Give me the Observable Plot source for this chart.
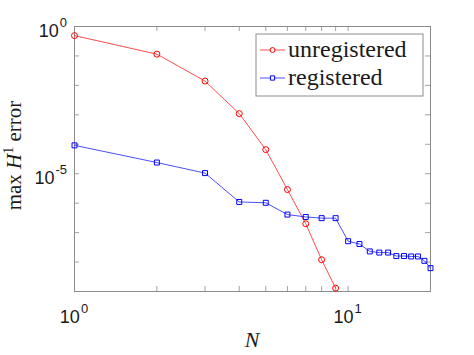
<!DOCTYPE html>
<html><head><meta charset="utf-8">
<script src="https://cdn.jsdelivr.net/npm/d3@7"></script>
<script src="https://cdn.jsdelivr.net/npm/@observablehq/plot@0.6"></script>
<style>body{margin:0;background:#fff}</style>
</head><body><div id="chart"></div>
<script>
// ---- data ----
const seriesNames = ["unregistered", "registered"];
const N_unreg = [1, 2, 3, 4, 5, 6, 7, 8, 9];
const err_unreg = [0.49, 0.115, 0.014, 1.1e-3, 6.6e-5, 2.9e-6, 2.0e-7, 1.2e-8, 1.3e-9];
const N_reg = [1, 2, 3, 4, 5, 6, 7, 8, 9, 10, 11, 12, 13, 14, 15, 16, 17, 18, 19, 20];
const err_reg = [9.2e-5, 2.4e-5, 1.05e-5, 1.1e-6, 1.03e-6, 4.1e-7, 3.4e-7, 3.1e-7, 3.1e-7,
                 5.1e-8, 4.1e-8, 2.3e-8, 2.1e-8, 2.1e-8, 1.6e-8, 1.6e-8, 1.55e-8, 1.55e-8, 1.1e-8, 6.2e-9];
const xTickLabels = [1, 10];
const yTickLabels = [1, 1e-5];
const xMinorTicks = [1, 2, 3, 4, 5, 6, 7, 8, 9, 10, 20];
const yMinorTicks = [1e-9, 1e-8, 1e-7, 1e-6, 1e-5, 1e-4, 1e-3, 1e-2, 1e-1, 1];
const xLabel = "N";

// ---- layout ----
const W = 474, H = 355, mL = 74, mR = 44, mT = 26, mB = 64;
const innerW = W - mL - mR, innerH = H - mT - mB;
const gray = "#8c8c8c", red = "#ff0000", blue = "#0000ff";

const unreg = N_unreg.map((n, i) => ({N: n, err: err_unreg[i]}));
const reg = N_reg.map((n, i) => ({N: n, err: err_reg[i]}));

const chart = Plot.plot({
  width: W, height: H,
  marginLeft: mL, marginRight: mR, marginTop: mT, marginBottom: mB,
  x: {type: "log", domain: [1, 20], axis: null},
  y: {type: "log", domain: [1e-9, 1], axis: null},
  style: {background: "white", overflow: "visible"},
  marks: [
    Plot.tickX(xMinorTicks, {x: d => d, insetTop: innerH - 5, stroke: gray, strokeWidth: 0.8}),
    Plot.tickX(xMinorTicks, {x: d => d, insetBottom: innerH - 5, stroke: gray, strokeWidth: 0.8}),
    Plot.tickY(yMinorTicks, {y: d => d, insetRight: innerW - 5, stroke: gray, strokeWidth: 0.8}),
    Plot.tickY(yMinorTicks, {y: d => d, insetLeft: innerW - 5, stroke: gray, strokeWidth: 0.8}),
    Plot.frame({stroke: gray, strokeWidth: 1}),
    Plot.line(unreg, {x: "N", y: "err", stroke: red, strokeWidth: 0.7}),
    Plot.dot(unreg, {x: "N", y: "err", stroke: red, r: 3, strokeWidth: 1, symbol: "circle"}),
    Plot.line(reg, {x: "N", y: "err", stroke: blue, strokeWidth: 0.7}),
    Plot.dot(reg, {x: "N", y: "err", stroke: blue, r: 2.8, strokeWidth: 1, symbol: "square"})
  ]
});
document.getElementById("chart").appendChild(chart);

const sx = chart.scale("x"), sy = chart.scale("y");
const svg = d3.select(chart);
const sans = "'Liberation Sans', Arial, Helvetica, sans-serif";
const serif = "'Liberation Serif', 'Times New Roman', serif";

function powLabel(g, v, x, y, anchor) {
  const e = Math.round(Math.log10(v));
  const t = g.append("text").attr("x", x).attr("y", y).attr("text-anchor", anchor)
    .attr("font-family", sans).attr("font-size", 18).attr("fill", "#1a1a1a");
  t.append("tspan").text("10");
  t.append("tspan").attr("font-size", 13).attr("dy", -10).attr("dx", 1).text(String(e));
}
const g = svg.append("g");
xTickLabels.forEach(v => powLabel(g, v, sx.apply(v), 322.5, "middle"));
yTickLabels.forEach(v => powLabel(g, v, mL - 7, sy.apply(v) + 10.7, "end"));

// axis titles
svg.append("text").attr("x", mL + innerW / 2).attr("y", 347).attr("text-anchor", "middle")
  .attr("font-family", serif).attr("font-style", "italic").attr("font-size", 22).attr("fill", "#1a1a1a")
  .text(xLabel);
const yl = svg.append("text").attr("transform", `translate(21,${mT + innerH / 2 - 3}) rotate(-90)`)
  .attr("text-anchor", "middle").attr("font-family", serif).attr("font-size", 21).attr("fill", "#1a1a1a");
yl.append("tspan").text("max ");
yl.append("tspan").attr("font-style", "italic").text("H");
yl.append("tspan").attr("font-size", 14).attr("dy", -8).text("1");
yl.append("tspan").attr("dy", 8).text(" error");

// legend
const lg = svg.append("g");
lg.append("rect").attr("x", 256).attr("y", 34).attr("width", 167).attr("height", 62)
  .attr("fill", "white").attr("stroke", gray).attr("stroke-width", 1);
const colors = [red, blue];
const sym = [d3.symbolCircle, d3.symbolSquare];
seriesNames.forEach((name, i) => {
  const cy = 50 + i * 28;
  lg.append("line").attr("x1", 260).attr("x2", 285).attr("y1", cy).attr("y2", cy)
    .attr("stroke", colors[i]).attr("stroke-width", 0.7);
  lg.append("path").attr("d", d3.symbol(sym[i], i === 0 ? Math.PI * 6 : Math.PI * 2.4 * 2.4)())
    .attr("transform", `translate(272.5,${cy})`).attr("fill", "white").attr("stroke", colors[i]);
  lg.append("text").attr("x", 288).attr("y", cy + 7).attr("text-anchor", "start")
    .attr("font-family", serif).attr("font-size", 24)
    .attr("fill", "#1a1a1a").text(name);
});
</script>
</body></html>
